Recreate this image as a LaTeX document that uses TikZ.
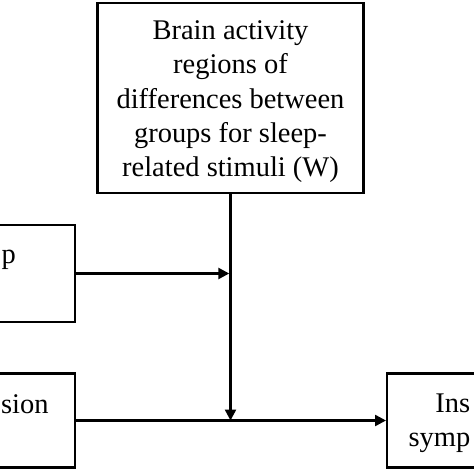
\documentclass[tikz,border=0pt]{standalone}
\usepackage{fontspec}
\setmainfont{Liberation Serif}
\usepackage{tikz}
\usetikzlibrary{arrows.meta,positioning,calc}
\tikzset{
  factor node/.style={draw=black,fill=white,line width=1.4pt,align=center,
    font=\fontsize{16.2pt}{19.6pt}\selectfont,inner sep=0.2cm},
  path arrow/.style={-{Triangle[length=0.22cm,width=0.22cm]},draw=black,line width=1.4pt}
}

\begin{document}
\begin{tikzpicture}
  \useasboundingbox (0,0) rectangle (9.48,-9.48);
  \clip (0,0) rectangle (9.48,-9.48);
  \node[factor node,minimum width=5.32cm,text height=3.28cm,text depth=0.12cm] (stimuli) at (4.61,-1.96)
    {Brain activity\\regions of\\differences between\\groups for sleep-\\related stimuli (W)};
  \node[factor node,minimum width=2.64cm,text height=0.56cm,text depth=0.98cm,anchor=east] (group) at (1.52,-5.47) {p};
  \node[factor node,minimum width=2.0cm,text height=0.6cm,text depth=0.88cm,anchor=east] (depression) at (1.52,-8.41) {sion};
  \node[factor node,align=right,text width=1.46cm,text height=0.58cm,text depth=0.9cm,anchor=west] (insomnia) at (7.72,-8.41) {Ins\\symp};
  \coordinate (meet) at (stimuli.south |- depression.east);
  \draw[path arrow] (stimuli.south) -- (meet);
  \draw[path arrow,shorten >=0.7pt] (group.east) -- (group.east -| stimuli.south);
  \draw[path arrow] (depression.east) -- (insomnia.west);
\end{tikzpicture}
\end{document}
